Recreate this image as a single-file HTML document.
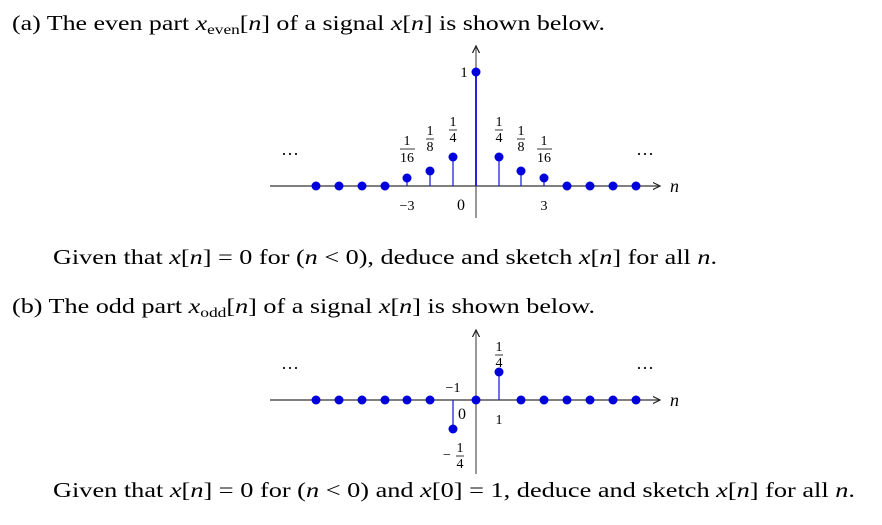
<!DOCTYPE html>
<html><head><meta charset="utf-8"><style>
html,body{margin:0;padding:0;background:#fff;}
svg{display:block;}
text{font-family:"Liberation Serif",serif;fill:#000;}
.t{font-size:21px;}
.s{font-size:14px;}
.i{font-style:italic;}
</style></head><body>
<svg width="882" height="525" viewBox="0 0 882 525" xmlns="http://www.w3.org/2000/svg">
<defs><marker id="ar" markerWidth="8" markerHeight="8" refX="6" refY="4" orient="auto"><path d="M0,1 L6,4 L0,7" fill="none" stroke="#222" stroke-width="1"/></marker></defs>

<text class="t" x="12" y="30" textLength="593" lengthAdjust="spacingAndGlyphs">(a) The even part <tspan class="i">x</tspan><tspan font-size="14" dy="4">even</tspan><tspan dy="-4">[</tspan><tspan class="i">n</tspan>] of a signal <tspan class="i">x</tspan>[<tspan class="i">n</tspan>] is shown below.</text>

<g>
<line x1="270" y1="186" x2="660" y2="186" stroke="#333" stroke-width="1.2" marker-end="url(#ar)"/>
<line x1="476" y1="218" x2="476" y2="46" stroke="#555" stroke-width="1.2" marker-end="url(#ar)"/>
<g stroke="#2222dd" stroke-width="1.3">
<line x1="407" y1="186" x2="407" y2="178"/><line x1="430" y1="186" x2="430" y2="171"/><line x1="453" y1="186" x2="453" y2="157"/>
<line x1="476" y1="186" x2="476" y2="72" stroke-width="2"/>
<line x1="499" y1="186" x2="499" y2="157"/><line x1="521" y1="186" x2="521" y2="171"/><line x1="544" y1="186" x2="544" y2="178"/>
</g>
<g fill="#0000dd">
<circle cx="316" cy="186" r="4.5"/><circle cx="339" cy="186" r="4.5"/><circle cx="362" cy="186" r="4.5"/><circle cx="385" cy="186" r="4.5"/>
<circle cx="407" cy="178" r="4.5"/><circle cx="430" cy="171" r="4.5"/><circle cx="453" cy="157" r="4.5"/><circle cx="476" cy="72" r="4.5"/>
<circle cx="499" cy="157" r="4.5"/><circle cx="521" cy="171" r="4.5"/><circle cx="544" cy="178" r="4.5"/>
<circle cx="567" cy="186" r="4.5"/><circle cx="590" cy="186" r="4.5"/><circle cx="613" cy="186" r="4.5"/><circle cx="636" cy="186" r="4.5"/>
</g>
<text x="464" y="77" font-size="15" text-anchor="middle">1</text>
<g class="s" text-anchor="middle">
<text x="407" y="145">1</text><line x1="400" y1="149" x2="415" y2="149" stroke="#000" stroke-width="0.8"/><text x="407" y="162">16</text>
<text x="430" y="135">1</text><line x1="426" y1="139" x2="434" y2="139" stroke="#000" stroke-width="0.8"/><text x="430" y="151">8</text>
<text x="453" y="126">1</text><line x1="449" y1="130" x2="457" y2="130" stroke="#000" stroke-width="0.8"/><text x="453" y="142">4</text>
<text x="499" y="126">1</text><line x1="495" y1="130" x2="503" y2="130" stroke="#000" stroke-width="0.8"/><text x="499" y="142">4</text>
<text x="521" y="135">1</text><line x1="517" y1="139" x2="525" y2="139" stroke="#000" stroke-width="0.8"/><text x="521" y="151">8</text>
<text x="544" y="145">1</text><line x1="537" y1="149" x2="552" y2="149" stroke="#000" stroke-width="0.8"/><text x="544" y="162">16</text>
<text x="407" y="210">−3</text><text x="544" y="210">3</text>
</g>
<text x="461" y="210" font-size="16" text-anchor="middle">0</text>
<text x="670" y="192" font-size="18" class="i">n</text>
<text x="290" y="160" font-size="18" text-anchor="middle">···</text>
<text x="645" y="160" font-size="18" text-anchor="middle">···</text>
</g>

<text class="t" x="53" y="264" textLength="664" lengthAdjust="spacingAndGlyphs">Given that <tspan class="i">x</tspan>[<tspan class="i">n</tspan>] = 0 for (<tspan class="i">n</tspan> &lt; 0), deduce and sketch <tspan class="i">x</tspan>[<tspan class="i">n</tspan>] for all <tspan class="i">n</tspan>.</text>

<text class="t" x="12" y="313" textLength="583" lengthAdjust="spacingAndGlyphs">(b) The odd part <tspan class="i">x</tspan><tspan font-size="14" dy="4">odd</tspan><tspan dy="-4">[</tspan><tspan class="i">n</tspan>] of a signal <tspan class="i">x</tspan>[<tspan class="i">n</tspan>] is shown below.</text>

<g>
<line x1="270" y1="400" x2="660" y2="400" stroke="#333" stroke-width="1.2" marker-end="url(#ar)"/>
<line x1="476" y1="474" x2="476" y2="330" stroke="#555" stroke-width="1.2" marker-end="url(#ar)"/>
<g stroke="#2222dd" stroke-width="1.3">
<line x1="453" y1="400" x2="453" y2="429"/><line x1="499" y1="400" x2="499" y2="372"/>
</g>
<g fill="#0000dd">
<circle cx="316" cy="400" r="4.5"/><circle cx="339" cy="400" r="4.5"/><circle cx="362" cy="400" r="4.5"/><circle cx="385" cy="400" r="4.5"/>
<circle cx="407" cy="400" r="4.5"/><circle cx="430" cy="400" r="4.5"/><circle cx="453" cy="429" r="4.5"/><circle cx="476" cy="400" r="4.5"/>
<circle cx="499" cy="372" r="4.5"/><circle cx="521" cy="400" r="4.5"/><circle cx="544" cy="400" r="4.5"/>
<circle cx="567" cy="400" r="4.5"/><circle cx="590" cy="400" r="4.5"/><circle cx="613" cy="400" r="4.5"/><circle cx="636" cy="400" r="4.5"/>
</g>
<g class="s" text-anchor="middle">
<text x="499" y="351">1</text><line x1="495" y1="355" x2="503" y2="355" stroke="#000" stroke-width="0.8"/><text x="499" y="367">4</text>
<text x="453" y="392">−1</text>
<text x="499" y="424">1</text>
<text x="460" y="452">1</text><line x1="456" y1="456" x2="464" y2="456" stroke="#000" stroke-width="0.8"/><text x="460" y="468">4</text>
<text x="447" y="459">−</text>
</g>
<text x="462" y="419" font-size="16" text-anchor="middle">0</text>
<text x="670" y="406" font-size="18" class="i">n</text>
<text x="290" y="374" font-size="18" text-anchor="middle">···</text>
<text x="645" y="374" font-size="18" text-anchor="middle">···</text>
</g>

<text class="t" x="53" y="497" textLength="802" lengthAdjust="spacingAndGlyphs">Given that <tspan class="i">x</tspan>[<tspan class="i">n</tspan>] = 0 for (<tspan class="i">n</tspan> &lt; 0) and <tspan class="i">x</tspan>[0] = 1, deduce and sketch <tspan class="i">x</tspan>[<tspan class="i">n</tspan>] for all <tspan class="i">n</tspan>.</text>
</svg>
</body></html>
